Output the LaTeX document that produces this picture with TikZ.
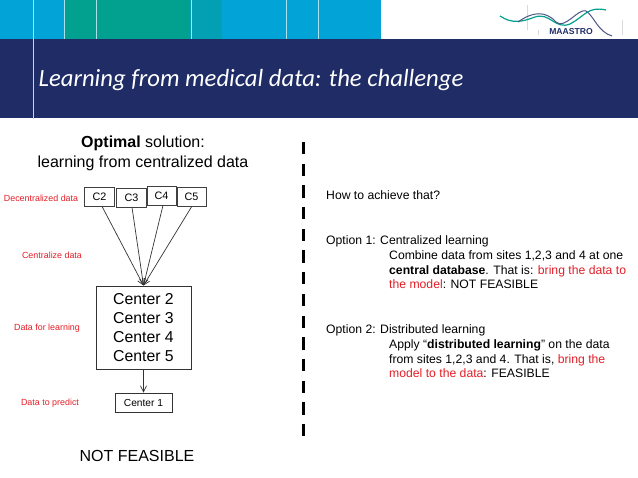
\documentclass[tikz,border=0pt]{standalone}
\usepackage{fontspec}
\setmainfont{Liberation Sans}
\newfontfamily\titlefont{Carlito}
\usepackage{tikz}
\usetikzlibrary{arrows.meta,calc,positioning}
\definecolor{mbnavy}{RGB}{31,44,101}
\definecolor{mbcyan}{RGB}{2,163,215}
\definecolor{mbgreen}{RGB}{2,160,142}
\definecolor{mbteal}{RGB}{2,160,178}
\definecolor{mbred}{RGB}{226,30,38}
\definecolor{mbline}{RGB}{170,225,235}
\tikzset{
  sitebox/.style={draw=black!75,line width=.7pt,fill=white,minimum width=30pt,minimum height=19pt,inner sep=0pt,font=\fontsize{10.8}{12}\selectfont},
  poolbox/.style={draw=black!80,line width=.7pt,minimum width=95pt,minimum height=83pt,inner sep=0pt,align=center,font=\fontsize{15.8}{19}\selectfont},
  stepnote/.style={text=mbred,font=\fontsize{8.9}{10}\selectfont},
  feed/.style={-{Straight Barb[length=6pt,width=6pt]},black!80,line width=.7pt},
  optbody/.style={anchor=north west,align=left,inner sep=0pt,font=\fontsize{12.2}{14.7}\selectfont}
}
\begin{document}
\begin{tikzpicture}[x=1pt,y=-1pt]
  \useasboundingbox (0,0) rectangle (638,478);
  % header strip
  \fill[mbcyan] (0,0) rectangle (381,39);
  \fill[mbgreen] (65,0) rectangle (190,39);
  \fill[mbteal] (190,0) rectangle (222,39);
  \foreach \xpos in {33,64,96,191,286,318}
    \draw[mbline,line width=.8pt] (\xpos,0) -- (\xpos,39);
  \fill[mbnavy] (0,39.5) rectangle (638,118.5);
  \draw[mbline,line width=.7pt] (33,39) -- (33,119);
  \node[anchor=west,inner sep=0pt,text=white] (slidetitle) at (38.5,80.5) {\titlefont\fontsize{24.7}{28}\selectfont\itshape Learning from medical data: the challenge};
  % logo
  \foreach \xpos/\ytop/\ybot in {527/5/30,538/30/35,622/20/35}
    \draw[black!15,line width=.6pt] (\xpos,\ytop) -- (\xpos,\ybot);
  \draw[mbgreen,line width=1.2pt] (500,16) .. controls (512,24) and (522,22) .. (535,17) .. controls (550,12) and (555,30) .. (570,24) .. controls (585,16) and (588,6) .. (606,10);
  \draw[mbnavy!80,line width=1pt] (518,22) .. controls (532,12) and (545,10) .. (556,22) .. controls (565,30) and (578,8) .. (586,11) .. controls (594,16) and (598,32) .. (612,36);
  \node[inner sep=0pt,text=mbnavy,font=\bfseries\fontsize{8.6}{9}\selectfont] (logotext) at (571,32) {MAASTRO};
  % left column
  \node[align=center,inner sep=0pt,font=\fontsize{16}{20}\selectfont] (lefthead) at (143,153) {\textbf{Optimal} solution:\\learning from centralized data};
  \node[sitebox] (c2) at (99.5,196.5) {C2};
  \node[sitebox] (c3) at (131.5,197.5) {C3};
  \node[sitebox,minimum width=29pt] (c4) at (161.5,195.5) {C4};
  \node[sitebox,minimum width=29pt] (c5) at (191.5,197) {C5};
  \node[poolbox] (pool) at (143.5,327.5) {Center 2\\Center 3\\Center 4\\Center 5};
  \node[draw=black!80,line width=.7pt,minimum width=57pt,minimum height=19pt,inner sep=0pt,font=\fontsize{10.2}{12}\selectfont] (target) at (143.5,402.5) {Center 1};
  \coordinate (poolin) at (143.5,285.5);
  \foreach \site/\shiftx in {c2/2.5,c3/.5,c4/1.5,c5/0}
    \draw[feed] ([xshift=\shiftx pt]\site.south) -- (poolin);
  \draw[feed] (pool.south) -- (target.north);
  \node[stepnote] (note1) at (41,198) {Decentralized data};
  \node[stepnote] (note2) at (52,255.5) {Centralize data};
  \node[stepnote] (note3) at (47,328) {Data for learning};
  \node[stepnote] (note4) at (50,403) {Data to predict};
  \node[inner sep=0pt,font=\fontsize{16}{18}\selectfont] (verdict) at (137,455.5) {NOT FEASIBLE};
  % divider
  \draw[black,line width=3pt,dash pattern=on 12.3pt off 9.4pt] (303,142) -- (303,436.5);
  % right column
  \node[optbody] (ask) at (326,190) {How to achieve that?};
  \node[optbody] (opt1) at (326,235) {Option 1: Centralized learning};
  \node[below=3.5pt of opt1.south west,optbody,xshift=63pt] (opt1body) {Combine data from sites 1,2,3 and 4 at one\\\textbf{central database}. That is: \textcolor{mbred}{bring the data to}\\\textcolor{mbred}{the model}: NOT FEASIBLE};
  \node[optbody] (opt2) at (326,324) {Option 2: Distributed learning};
  \node[below=3.5pt of opt2.south west,optbody,xshift=63pt] (opt2body) {Apply “\textbf{distributed learning}” on the data\\from sites 1,2,3 and 4. That is, \textcolor{mbred}{bring the}\\\textcolor{mbred}{model to the data}: FEASIBLE};
\end{tikzpicture}
\end{document}
